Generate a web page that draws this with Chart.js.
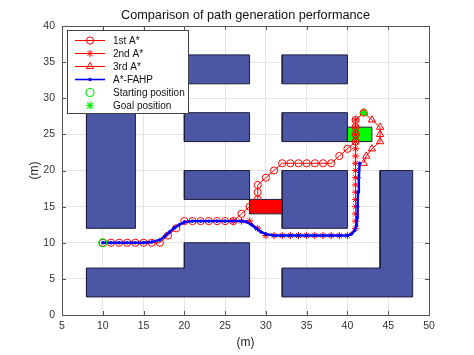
<!DOCTYPE html>
<html><head><meta charset="utf-8">
<script src="https://cdn.jsdelivr.net/npm/chart.js@4/dist/chart.umd.min.js"></script>
<style>html,body{margin:0;padding:0;background:#fff;}</style>
</head><body>
<canvas id="c" width="474" height="355"></canvas>
<script>
// ---- data (map units, metres) ----
const xTickValues = [5,10,15,20,25,30,35,40,45,50];
const yTickValues = [0,5,10,15,20,25,30,35,40];

const path1X = [10,11,12,13,14,15,16,17,18,19,20,21,22,23,24,25,26,27,28,29,29,29,30,31,32,33,34,35,36,37,38,39,40,41,41,41,41,42];
const path1Y = [10,10,10,10,10,10,10,10,11,12,13,13,13,13,13,13,13,14,15,16,17,18,19,20,21,21,21,21,21,21,21,22,23,24,25,26,27,28];

const path2X = [26,27,28,29,30,31,32,33,34,35,36,37,38,39,40,41,41,41,41,41,41,41,41,41,41,41,41,41,41,41,41,42];
const path2Y = [13,13,13,12,11,11,11,11,11,11,11,11,11,11,11,12,13,14,15,16,17,18,19,20,21,22,23,24,25,26,27,28];

const path3X = [42,42.3,43,44,44,44,43,42];
const path3Y = [21,22,23,24,25,26,27,28];

const fahpX = [10,11,12,13,14,15,16,17,17.6,18.2,18.8,19.4,20,21,22,23,24,25,26,27,27.6,28.2,28.8,29.4,30,31,32,33,34,35,36,37,38,39,40,40.5,40.9,41.1,41.2,41.25,41.3,41.4,41.5];
const fahpY = [10,10,10,10,10,10,10.1,10.4,10.9,11.5,12.1,12.5,12.85,13,13,13,13,13,13,13,12.9,12.5,12,11.5,11.2,11,11,11,11,11,11,11,11,11,11,11.2,11.7,12.4,13.5,15,17,19,21];

const startPoint = [10,10];
const goalPoint = [42,28];

// static obstacles: rectangles [x1,y1,x2,y2] and L-shaped polygons
const obstacleRects = [[8,12,14,28],[20,32,28,36],[20,24,28,28],[20,16,28,20],[32,32,40,36],[32,24,40,28],[32,12,40,20]];
const obstaclePolys = [
  [[8,2.5],[28,2.5],[28,10],[20,10],[20,6.5],[8,6.5]],
  [[32,2.5],[48,2.5],[48,20],[44,20],[44,6.5],[32,6.5]]
];
// dynamic obstacles
const redObstacle = [28,14,32,16];
const greenObstacle = [40,24,43,26];

// ---- build ----
const zip = (xs, ys) => xs.map((x,i) => ({x, y: ys[i]}));
const rectPts = r => [{x:r[0],y:r[1]},{x:r[2],y:r[1]},{x:r[2],y:r[3]},{x:r[0],y:r[3]},{x:r[0],y:r[1]}];
const polyPts = p => p.concat([p[0]]).map(v => ({x:v[0], y:v[1]}));

const NAVY = '#4b57a5', EDGE = '#1c1c3c';
const shapeDs = (pts, fillC, ord) => ({type:'line', data: pts, fill:'shape', backgroundColor: fillC, borderColor: EDGE, borderWidth: 1, pointRadius: 0, tension: 0, order: ord});

const datasets = [
  {label:'1st A*', inLegend:true, data: zip(path1X, path1Y), borderColor:'#ff0000', borderWidth:1, pointStyle:'circle', pointRadius:3.6, pointBorderColor:'#ff0000', pointBackgroundColor:'rgba(0,0,0,0)', pointBorderWidth:1, order:4},
  {label:'2nd A*', inLegend:true, data: zip(path2X, path2Y), borderColor:'#ff0000', borderWidth:1, pointStyle:'star', pointRadius:3.6, pointBorderColor:'#ff0000', pointBackgroundColor:'rgba(0,0,0,0)', pointBorderWidth:1, order:3},
  {label:'3rd A*', inLegend:true, data: zip(path3X, path3Y), borderColor:'#ff0000', borderWidth:1, pointStyle:'triangle', pointRadius:4.2, pointBorderColor:'#ff0000', pointBackgroundColor:'rgba(0,0,0,0)', pointBorderWidth:1, order:2},
  {label:'A*-FAHP', inLegend:true, data: zip(fahpX, fahpY), borderColor:'#0000ff', borderWidth:2.4, pointStyle:'circle', pointRadius:1.3, pointBorderColor:'#0000ff', pointBackgroundColor:'#0000ff', pointBorderWidth:1, order:1},
  {label:'Starting position', inLegend:true, showLine:false, data:[{x:startPoint[0],y:startPoint[1]}], pointStyle:'circle', pointRadius:4, pointBorderColor:'#00ee00', pointBackgroundColor:'rgba(0,0,0,0)', pointBorderWidth:1.2, order:0},
  {label:'Goal position', inLegend:true, showLine:false, data:[{x:goalPoint[0],y:goalPoint[1]}], pointStyle:'star', pointRadius:4, pointBorderColor:'#00ee00', pointBackgroundColor:'rgba(0,0,0,0)', pointBorderWidth:1.2, order:0},
  shapeDs(rectPts(redObstacle), '#ff0000', 5),
  shapeDs(rectPts(greenObstacle), '#00ff00', 5)
];
obstacleRects.forEach(r => datasets.push(shapeDs(rectPts(r), NAVY, 6)));
obstaclePolys.forEach(p => datasets.push(shapeDs(polyPts(p), NAVY, 6)));
datasets.forEach(d => { d.type = 'line'; if (d.tension === undefined) d.tension = 0; });

Chart.defaults.font.family = '"Liberation Sans", Arial, sans-serif';

const framePlugin = {
  id: 'frame',
  beforeDatasetsDraw(chart) {
    const {ctx, chartArea: a, scales: {x, y}} = chart;
    ctx.save();
    ctx.strokeStyle = '#555';
    ctx.lineWidth = 1;
    ctx.beginPath();
    xTickValues.forEach(v => {
      const px = Math.round(x.getPixelForValue(v)) + 0.5;
      ctx.moveTo(px, a.bottom); ctx.lineTo(px, a.bottom - 4);
      ctx.moveTo(px, a.top); ctx.lineTo(px, a.top + 4);
    });
    yTickValues.forEach(v => {
      const py = Math.round(y.getPixelForValue(v)) + 0.5;
      ctx.moveTo(a.left, py); ctx.lineTo(a.left + 4, py);
      ctx.moveTo(a.right, py); ctx.lineTo(a.right - 4, py);
    });
    ctx.stroke();
    ctx.strokeRect(Math.round(a.left) + 0.5, Math.round(a.top) + 0.5, Math.round(a.right - a.left), Math.round(a.bottom - a.top));
    ctx.restore();
  }
};

const legendPlugin = {
  id: 'boxLegend',
  afterDatasetsDraw(chart) {
    const {ctx, chartArea: a} = chart;
    const x0 = Math.round(a.left) + 5, y0 = Math.round(a.top) + 4, w = 121, h = 83;
    ctx.save();
    ctx.fillStyle = '#fff';
    ctx.fillRect(x0, y0, w, h);
    ctx.strokeStyle = '#444';
    ctx.lineWidth = 1;
    ctx.strokeRect(x0 + 0.5, y0 + 0.5, w, h);
    const items = chart.data.datasets.filter(d => d.inLegend);
    items.forEach((d, i) => {
      const yy = y0 + 10.5 + i * 13;
      if (d.showLine !== false) {
        ctx.strokeStyle = d.borderColor;
        ctx.lineWidth = Math.min(d.borderWidth, 1.6);
        ctx.beginPath();
        ctx.moveTo(x0 + 8, yy); ctx.lineTo(x0 + 38, yy);
        ctx.stroke();
      }
      ctx.strokeStyle = d.pointBorderColor;
      ctx.fillStyle = d.pointBackgroundColor;
      ctx.lineWidth = d.pointBorderWidth;
      Chart.helpers.drawPoint(ctx, {pointStyle: d.pointStyle, radius: d.pointRadius, rotation: 0, borderWidth: d.pointBorderWidth}, x0 + 23, yy);
      ctx.fillStyle = '#111';
      ctx.font = '10px "Liberation Sans", Arial, sans-serif';
      ctx.textBaseline = 'middle';
      ctx.textAlign = 'left';
      ctx.fillText(d.label, x0 + 46, yy + 0.5);
    });
    ctx.restore();
  }
};

new Chart(document.getElementById('c'), {
  type: 'line',
  data: { datasets },
  options: {
    responsive: false,
    animation: false,
    devicePixelRatio: 1,
    layout: { padding: { left: 0, right: 45, top: 0, bottom: 0 } },
    plugins: {
      legend: { display: false },
      tooltip: { enabled: false },
      title: { display: false }
    },
    scales: {
      x: {
        type: 'linear', min: 5, max: 50,
        afterBuildTicks: s => { s.ticks = xTickValues.map(v => ({value: v})); },
        afterFit: s => { s.height = 40; },
        ticks: { color: '#333', padding: 5, font: { size: 10.5 } },
        grid: { color: '#e4e4e4', drawTicks: false },
        border: { display: false },
        title: { display: true, text: '(m)', color: '#222', font: { size: 12 }, padding: { top: 0, bottom: 4.8 } }
      },
      xTop: {
        type: 'linear', position: 'top', min: 5, max: 50,
        afterFit: s => { s.height = 26; },
        ticks: { display: false },
        grid: { display: false, drawTicks: false },
        border: { display: false },
        title: { display: true, text: 'Comparison of path generation performance', color: '#111', font: { size: 12.7 }, padding: { top: 7.5, bottom: 0 } }
      },
      y: {
        type: 'linear', min: 0, max: 40,
        afterBuildTicks: s => { s.ticks = yTickValues.map(v => ({value: v})); },
        afterFit: s => { s.width = 62; },
        ticks: { color: '#333', padding: 7, font: { size: 10.5 } },
        grid: { color: '#e4e4e4', drawTicks: false },
        border: { display: false },
        title: { display: true, text: '(m)', color: '#222', font: { size: 12 }, padding: { top: 27, bottom: 0 } }
      }
    }
  },
  plugins: [framePlugin, legendPlugin]
});
</script>
</body></html>
